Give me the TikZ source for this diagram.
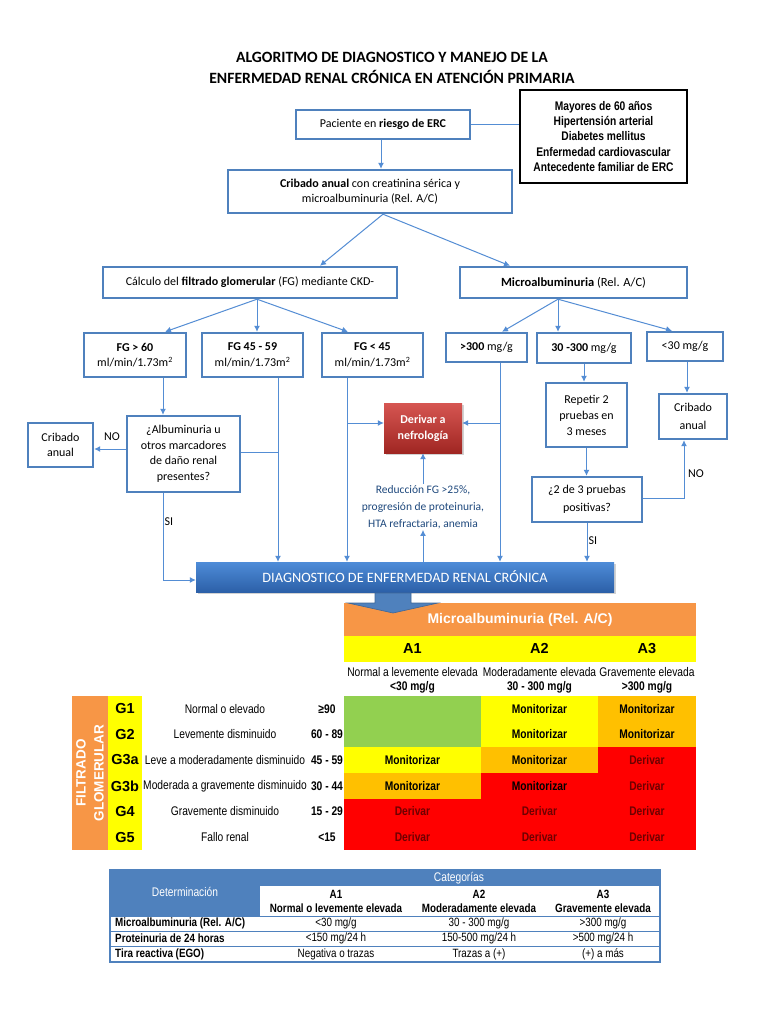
\documentclass[tikz,border=0pt]{standalone}
\usepackage{fontspec}
\setmainfont{Carlito}
\newfontfamily\narrow[FakeStretch=0.82]{Liberation Sans}
\newfontfamily\arial{Liberation Sans}
\usetikzlibrary{arrows.meta,shadows}
\definecolor{flowblue}{RGB}{79,129,189}
\definecolor{lineblue}{RGB}{84,141,212}
\definecolor{labblue}{RGB}{31,73,125}
\definecolor{hdrorange}{RGB}{247,150,70}
\definecolor{cgreen}{RGB}{146,208,80}
\definecolor{cyellow}{RGB}{255,255,0}
\definecolor{camber}{RGB}{255,192,0}
\definecolor{cred}{RGB}{255,0,0}
\definecolor{dred}{RGB}{110,0,0}
\definecolor{tblue}{RGB}{79,129,189}
\definecolor{dtop}{RGB}{78,140,216}
\definecolor{dbot}{RGB}{44,96,168}
\definecolor{rtop}{RGB}{214,86,82}
\definecolor{rbot}{RGB}{160,38,34}
\begin{document}
\begin{tikzpicture}[x=1pt,y=-1pt,
  fbox/.style={draw=flowblue, line width=2.4pt, fill=white, inner sep=0pt, align=center,
    font=\fontsize{12}{15.5}\selectfont, text=black},
  conn/.style={draw=lineblue, line width=1pt},
  arr/.style={conn, -{Latex[length=6pt,width=6pt]}},
  lbl/.style={font=\fontsize{12}{14}\selectfont, inner sep=0pt},
  titlef/.style={font=\bfseries\fontsize{15.7}{18}\selectfont, inner sep=0pt},
  tnar/.style={font=\narrow\fontsize{12.5}{14}\selectfont, inner sep=0pt},
  tnarb/.style={font=\narrow\bfseries\fontsize{12.5}{14}\selectfont, inner sep=0pt},
  mon/.style={tnarb},
  der/.style={tnarb, text=dred},
  glab/.style={font=\arial\bfseries\fontsize{14.5}{16}\selectfont, inner sep=0pt},
  bt/.style={font=\narrow\fontsize{12}{13}\selectfont, inner sep=0pt},
  btb/.style={font=\narrow\bfseries\fontsize{12}{13}\selectfont, inner sep=0pt}
]
\useasboundingbox (0,0) rectangle (768,1024);
\fill[white] (0,0) rectangle (768,1024);

% ---------- Title ----------
\node[titlef] (t1) at (392,57) {ALGORITMO DE DIAGNOSTICO Y MANEJO DE LA};
\node[titlef] (t2) at (392,77) {ENFERMEDAD RENAL CRÓNICA EN ATENCIÓN PRIMARIA};

% ---------- Flowchart nodes ----------
\node[draw=black, line width=2.5pt, fill=white, minimum width=167pt, minimum height=93pt, inner sep=0pt,
  align=center, font=\narrow\bfseries\fontsize{12.5}{15.3}\selectfont] (risk) at (603.5,136.5)
  {Mayores de 60 años\\Hipertensión arterial\\Diabetes mellitus\\Enfermedad cardiovascular\\Antecedente familiar de ERC};

\node[fbox, minimum width=174pt, minimum height=29pt] (pac) at (383,124.5) {Paciente en \textbf{riesgo de ERC}};
\node[fbox, minimum width=284pt, minimum height=43pt] (crib) at (370,191.5)
  {\textbf{Cribado anual} con creatinina sérica y\\microalbuminuria (Rel. A/C)};
\node[fbox, minimum width=294pt, minimum height=31pt] (calc) at (250,282.5)
  {Cálculo del \textbf{filtrado glomerular} (FG) mediante CKD-};
\node[fbox, minimum width=227pt, minimum height=31pt, font=\fontsize{12.5}{15.5}\selectfont] (micro) at (573.5,282.5)
  {\textbf{Microalbuminuria} (Rel. A/C)};

\node[fbox, minimum width=102pt, minimum height=44pt] (fg60) at (135,355)
  {\textbf{FG > 60}\\ml/min/1.73m\textsuperscript{2}};
\node[fbox, minimum width=101pt, minimum height=44pt] (fg4559) at (252.5,355)
  {\textbf{FG 45 - 59}\\ml/min/1.73m\textsuperscript{2}};
\node[fbox, minimum width=101pt, minimum height=44pt] (fg45) at (372.5,355)
  {\textbf{FG < 45}\\ml/min/1.73m\textsuperscript{2}};

\node[fbox, minimum width=81pt, minimum height=29pt] (m300) at (486.5,347.5) {\textbf{>300} mg/g};
\node[fbox, minimum width=94pt, minimum height=30pt] (m30300) at (584,348) {\textbf{30 -300} mg/g};
\node[fbox, minimum width=76pt, minimum height=29pt] (m30) at (685,346.5) {<30 mg/g};

\node[fbox, minimum width=113pt, minimum height=76pt] (alb) at (183.5,454)
  {¿Albuminuria u\\otros marcadores\\de daño renal\\presentes?};
\node[fbox, minimum width=65pt, minimum height=44pt] (cribL) at (60.5,445) {Cribado\\anual};

\node[draw=none, top color=rtop, bottom color=rbot, minimum width=78pt, minimum height=50pt, inner sep=0pt,
  align=center, text=white, font=\bfseries\fontsize{12}{16}\selectfont,
  drop shadow={shadow xshift=1.5pt, shadow yshift=-1.5pt, opacity=0.35}] (deriv) at (423,428)
  {Derivar a\\nefrología};

\node[fbox, minimum width=81pt, minimum height=64pt, font=\fontsize{12}{16}\selectfont] (rep) at (586.5,415)
  {Repetir 2\\pruebas en\\3 meses};
\node[fbox, minimum width=68pt, minimum height=45pt, font=\fontsize{12}{18}\selectfont] (cribR) at (693,416.5) {Cribado\\anual};
\node[fbox, minimum width=110pt, minimum height=45pt, font=\fontsize{12}{18}\selectfont] (dos) at (587,499.5)
  {¿2 de 3 pruebas\\positivas?};

\node[align=center, text=labblue, inner sep=1pt, font=\fontsize{11.5}{17}\selectfont] (lab) at (423,507)
  {Reducción FG >25\%,\\progresión de proteinuria,\\HTA refractaria, anemia};

\node[draw=none, top color=dtop, bottom color=dbot, minimum width=418pt, minimum height=30pt, inner sep=0pt,
  text=white, font=\fontsize{14.3}{16}\selectfont,
  drop shadow={shadow xshift=1.5pt, shadow yshift=-1.5pt, opacity=0.35}] (diag) at (405,577)
  {DIAGNOSTICO DE ENFERMEDAD RENAL CRÓNICA};

% ---------- Connectors ----------
\draw[conn] (pac.east) -- (pac.east -| risk.west);
\coordinate (pacs) at ([xshift=-2pt]pac.south);
\draw[arr] (pacs) -- (pacs |- crib.north);
\coordinate (cs) at ([xshift=13pt]crib.south);
\draw[arr] (cs) -- ([xshift=70pt]calc.north);
\draw[arr] (cs) -- ([xshift=-63.5pt]micro.north);
\coordinate (cls) at ([xshift=7pt]calc.south);
\draw[arr] (cls) -- ([xshift=30pt]fg60.north);
\draw[arr] (cls) -- ([xshift=4.5pt]fg4559.north);
\draw[arr] (cls) -- ([xshift=-24.5pt]fg45.north);
\coordinate (ms) at ([xshift=-15.5pt]micro.south);
\draw[arr] (ms) -- ([xshift=15.5pt]m300.north);
\draw[arr] (ms) -- ([xshift=-26pt]m30300.north);
\draw[arr] (ms) -- ([xshift=-13pt]m30.north);

\coordinate (f60s) at ([xshift=28pt]fg60.south);
\draw[arr] (f60s) -- (f60s |- alb.north);
\coordinate (aw) at ([yshift=5pt]alb.west);
\draw[arr] (aw) -- (aw -| cribL.east);
\node[lbl] (no1) at (112,437) {NO};
\coordinate (as) at ([xshift=-20.5pt]alb.south);
\coordinate (dw) at ([yshift=-3pt]diag.west);
\draw[arr] (as) |- (dw);
\node[lbl] (si1) at (169,522) {SI};

\coordinate (p1) at ([xshift=25.5pt]fg4559.south);
\draw[arr] (p1) -- (p1 |- diag.north);
\coordinate (ae) at ([yshift=2pt]alb.east);
\draw[conn] (ae) -- (ae -| p1);

\coordinate (p2) at ([xshift=-25.5pt]fg45.south);
\draw[arr] (p2) -- (p2 |- diag.north);
\coordinate (dlw) at ([yshift=5pt]deriv.west);
\draw[arr] (dlw -| p2) -- (dlw);

\coordinate (p3) at ([xshift=13.5pt]m300.south);
\draw[arr] (p3) -- (p3 |- diag.north);
\coordinate (dle) at ([yshift=5pt]deriv.east);
\draw[arr] (dle -| p3) -- (dle);

\draw[arr] (m30300.south) -- (m30300.south |- rep.north);
\draw[arr] (rep.south) -- (rep.south |- dos.north);
\draw[arr] (dos.south) -- (dos.south |- diag.north);
\node[lbl] (si2) at (593,541) {SI};
\coordinate (m30s) at ([xshift=2pt]m30.south);
\draw[arr] (m30s) -- (m30s |- cribR.north);
\coordinate (de) at ([yshift=1.5pt]dos.east);
\coordinate (crs) at ([xshift=-9pt]cribR.south);
\draw[arr] (de) -| (crs);
\node[lbl] (no2) at (696,474) {NO};

\draw[arr] (diag.north -| lab.south) -- (lab.south);
\draw[arr] (lab.north) -- (deriv.south);

% ---------- Classification grid ----------
\fill[hdrorange] (344,603) rectangle (696,636);
\node[font=\arial\bfseries\fontsize{14}{16}\selectfont, text=white, inner sep=0pt] (mh) at (520,620) {Microalbuminuria (Rel. A/C)};
\fill[cyellow] (344,636) rectangle (696,662);
\node[glab, anchor=base] (a1) at (412.5,653.5) {A1};
\node[glab, anchor=base] (a2) at (539.5,653.5) {A2};
\node[glab, anchor=base] (a3) at (647,653.5) {A3};
\node[tnar] (d1) at (412.5,672) {Normal a levemente elevada};
\node[tnar] (d2) at (539.5,672) {Moderadamente elevada};
\node[tnar] (d3) at (647,672) {Gravemente elevada};
\node[tnarb] (v1) at (412.5,687) {<30 mg/g};
\node[tnarb] (v2) at (539.5,687) {30 - 300 mg/g};
\node[tnarb] (v3) at (647,687) {>300 mg/g};

% block arrow
\filldraw[fill=flowblue, draw=flowblue!80!black, line width=0.6pt]
  (375,593) -- (411,593) -- (411,603) -- (438,603) -- (393,613) -- (348,603) -- (375,603) -- cycle;

% cells
\fill[cgreen]  (344,696) rectangle (481,747.3);
\fill[cyellow] (344,747.3) rectangle (481,773);
\fill[camber]  (344,773) rectangle (481,798.7);
\fill[cred]    (344,798.7) rectangle (481,850);
\fill[cyellow] (481,696) rectangle (598,747.3);
\fill[camber]  (481,747.3) rectangle (598,773);
\fill[cred]    (481,773) rectangle (598,850);
\fill[camber]  (598,696) rectangle (696,747.3);
\fill[cred]    (598,747.3) rectangle (696,850);

\foreach \n/\x/\y in {1/539.5/709, 2/647/709, 3/539.5/734.5, 4/647/734.5, 5/412.5/760, 6/539.5/760, 7/412.5/786, 8/539.5/786}
  \node[mon] (mo\n) at (\x,\y) {Monitorizar};
\foreach \n/\x/\y in {1/647/760, 2/647/786, 3/412.5/811.5, 4/539.5/811.5, 5/647/811.5, 6/412.5/837, 7/539.5/837, 8/647/837}
  \node[der] (de\n) at (\x,\y) {Derivar};

% left side
\fill[hdrorange] (72,696) rectangle (108,850);
\fill[cyellow] (108,696) rectangle (142,850);
\node[rotate=90, text=white, align=center, inner sep=0pt, font=\arial\bfseries\fontsize{13.5}{18}\selectfont] (fgl) at (90,773) {FILTRADO\\GLOMERULAR};
\foreach \n/\g/\d/\v/\y in {1/G1/Normal o elevado/≥90/709, 2/G2/Levemente disminuido/60 - 89/734.5,
   3/G3a/Leve a moderadamente disminuido/45 - 59/760, 4/G3b/Moderada a gravemente disminuido/30 - 44/786,
   5/G4/Gravemente disminuido/15 - 29/811.5, 6/G5/Fallo renal/<15/837}{
  \node[glab] (g\n) at (125,\y) {\g};
  \node[tnar] (gd\n) at (225,\y) {\d};
  \node[tnarb] (gv\n) at (327,\y) {\v};
}

% ---------- Bottom table ----------
\fill[tblue] (110,870) rectangle (660,886);
\fill[tblue] (110,886) rectangle (260,916);
\draw[tblue, line width=1pt] (110,916) -- (660,916);
\draw[tblue, line width=1pt] (110,931) -- (660,931);
\draw[tblue, line width=1pt] (110,946) -- (660,946);
\draw[tblue, line width=1.6pt] (110,870) rectangle (660,962);
\node[font=\narrow\fontsize{12.5}{14}\selectfont, text=white, inner sep=0pt] (det) at (185,892) {Determinación};
\node[font=\narrow\fontsize{12.5}{14}\selectfont, text=white, inner sep=0pt] (cat) at (459,878) {Categorías};
\node[btb] (b1) at (336,894) {A1};
\node[btb] (b2) at (479,894) {A2};
\node[btb] (b3) at (603,894) {A3};
\node[btb] (bn1) at (336,908) {Normal o levemente elevada};
\node[btb] (bn2) at (479,908) {Moderadamente elevada};
\node[btb] (bn3) at (603,908) {Gravemente elevada};
\node[btb, anchor=west] (r1) at (115,923.5) {Microalbuminuria (Rel. A/C)};
\node[btb, anchor=west] (r2) at (115,938.5) {Proteinuria de 24 horas};
\node[btb, anchor=west] (r3) at (115,954) {Tira reactiva (EGO)};
\node[bt] (r11) at (336,923.5) {<30 mg/g};
\node[bt] (r12) at (479,923.5) {30 - 300 mg/g};
\node[bt] (r13) at (603,923.5) {>300 mg/g};
\node[bt] (r21) at (336,938.5) {<150 mg/24 h};
\node[bt] (r22) at (479,938.5) {150-500 mg/24 h};
\node[bt] (r23) at (603,938.5) {>500 mg/24 h};
\node[bt] (r31) at (336,954) {Negativa o trazas};
\node[bt] (r32) at (479,954) {Trazas a (+)};
\node[bt] (r33) at (603,954) {(+) a más};
\end{tikzpicture}
\end{document}
